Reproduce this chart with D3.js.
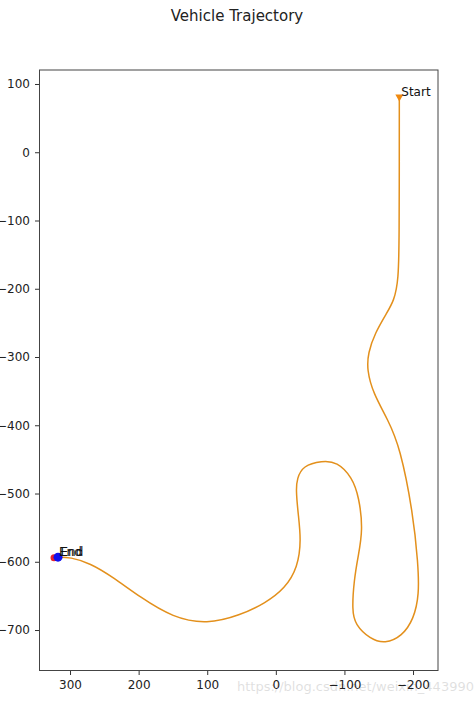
<!DOCTYPE html>
<html>
<head>
<meta charset="utf-8">
<script src="https://cdn.jsdelivr.net/npm/d3@7"></script>
<style>
  body { margin: 0; background: #fff; }
  text { font-family: "DejaVu Sans", sans-serif; }
</style>
</head>
<body>
<div id="chart"></div>
<script>
var svgWidth = 474;
var svgHeight = 702;

var margin = { top: 70, right: 36, bottom: 31.5, left: 39.5 };
var width = svgWidth - margin.left - margin.right;
var height = svgHeight - margin.top - margin.bottom;

// trajectory (x axis is inverted)
var trajX = [-180, -180, -180, -179.8, -179, -172, -161.7, -144.6, -134.4, -132.9, -141.7, -163.6, -181,
  -200, -207.3, -209, -201, -184, -159.2, -137.3, -115.5, -111.1, -114, -119.8, -127.1,
  -121.3, -111.1, -89.2, -67.3, -39.4, -30.9, -29.4, -32.4, -37, -32, -13.6, 15.7, 52.2,
  100.3, 149.9, 198, 237.3, 270.8, 300, 317.5, 317.5];
var trajY = [79.5, 79.5, -10, -120, -188, -218, -235.5, -264.8, -294.1, -319, -352.7, -392.3, -431.9,
  -528.6, -601.9, -648, -684, -709, -720, -713, -692, -670.7, -626.8, -593, -553.5,
  -505.2, -475.9, -453.4, -451.9, -459.2, -478.2, -494.9, -528.6, -568.2, -608, -638.8, -660.8, -678.4,
  -691.5, -682, -651.8, -622.5, -602, -593.2, -593.2, -593.2];

var xTicks = [300, 200, 100, 0, -100, -200];
var yTicks = [100, 0, -100, -200, -300, -400, -500, -600, -700];

var svg = d3.select("#chart")
  .append("svg")
  .attr("width", svgWidth)
  .attr("height", svgHeight);

svg.append("text")
  .attr("x", 237)
  .attr("y", 21)
  .attr("text-anchor", "middle")
  .attr("font-size", 15)
  .attr("fill", "#222")
  .text("Vehicle Trajectory");

var chartGroup = svg.append("g")
  .attr("transform", `translate(${margin.left}, ${margin.top})`);

var xScale = d3.scaleLinear().domain([344.5, -236.4]).range([0, width]);
var yScale = d3.scaleLinear().domain([-759.3, 120.5]).range([height, 0]);

var fmt = d => String(d).replace("-", "\u2212");

var xAxis = chartGroup.append("g")
  .attr("transform", `translate(0, ${height})`)
  .call(d3.axisBottom(xScale).tickValues(xTicks).tickSize(4.5).tickPadding(5).tickFormat(fmt));

var yAxis = chartGroup.append("g")
  .call(d3.axisLeft(yScale).tickValues(yTicks).tickSize(4.5).tickPadding(5).tickFormat(fmt));

[xAxis, yAxis].forEach(function(ax) {
  ax.select(".domain").remove();
  ax.selectAll(".tick line").attr("stroke", "#333");
  ax.selectAll(".tick text")
    .attr("font-family", "DejaVu Sans, sans-serif")
    .attr("font-size", 12)
    .attr("fill", "#222");
});

// frame
chartGroup.append("rect")
  .attr("width", width)
  .attr("height", height)
  .attr("fill", "none")
  .attr("stroke", "#444")
  .attr("stroke-width", 1);

var points = trajX.map((x, i) => [x, trajY[i]]);

// smooth b-spline through the read-off points
var line = d3.line()
  .x(d => xScale(d[0]))
  .y(d => yScale(d[1]))
  .curve(d3.curveBasis);

chartGroup.append("path")
  .datum(points)
  .attr("fill", "none")
  .attr("stroke", "#e3901c")
  .attr("stroke-width", 1.5)
  .attr("d", line);

// start marker
var s = points[0];
var sx = xScale(s[0]), sy = yScale(s[1]);
chartGroup.append("path")
  .attr("d", `M${sx - 4},${sy - 3.5}L${sx + 4},${sy - 3.5}L${sx},${sy + 3.5}Z`)
  .attr("fill", "#f08a10");
chartGroup.append("text")
  .attr("x", sx + 2)
  .attr("y", sy - 2)
  .attr("font-size", 12)
  .attr("fill", "#111")
  .text("Start");

// end markers
var e = points[points.length - 1];
var ex = xScale(e[0]), ey = yScale(e[1]);
chartGroup.append("circle")
  .attr("cx", ex - 4).attr("cy", ey + 0.5).attr("r", 3.5)
  .attr("fill", "#e8242c");
chartGroup.append("circle")
  .attr("cx", ex).attr("cy", ey).attr("r", 4.5)
  .attr("fill", "#1010ee");
chartGroup.append("text")
  .attr("x", ex + 1)
  .attr("y", ey - 1)
  .attr("font-size", 12)
  .attr("fill", "#111")
  .text("End");
chartGroup.append("text")
  .attr("x", ex + 2.5)
  .attr("y", ey - 1.5)
  .attr("font-size", 12)
  .attr("fill", "#111")
  .text("End");

// watermark
svg.append("text")
  .attr("x", 237)
  .attr("y", 691)
  .attr("font-size", 13)
  .attr("fill", "#000")
  .attr("opacity", 0.12)
  .text("https://blog.csdn.net/weixin_44399083");
</script>
</body>
</html>
